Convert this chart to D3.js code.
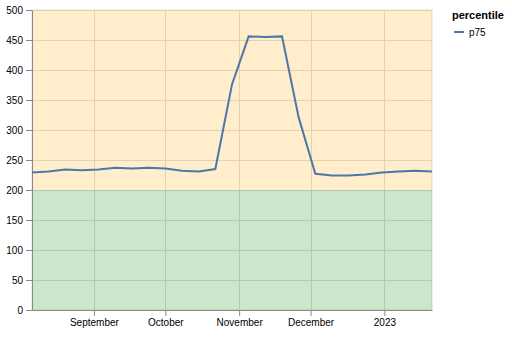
<!DOCTYPE html>
<html>
<head>
<meta charset="utf-8">
<script src="https://cdn.jsdelivr.net/npm/d3@7"></script>
<style>
  body { margin: 0; background: #fff; }
  svg { display: block; font-family: "Liberation Sans", Arial, sans-serif; }
</style>
</head>
<body>
<svg width="512" height="339"></svg>
<script>
// weekly p75 values, starting 2022-08-06
var startDate = new Date(2022, 7, 6);
var p75 = [229, 231, 234, 233, 234, 237, 236, 237, 236, 232, 231, 235,
	376, 456, 455, 456, 321, 227, 224, 224, 226, 229, 231, 232, 231];
var yTicks = [0, 50, 100, 150, 200, 250, 300, 350, 400, 450, 500];
var bands = [
	{ from: 0, to: 200, color: 'green' },
	{ from: 200, to: 500, color: 'orange' }
];
var seriesName = 'p75';
var legendTitle = 'percentile';

var data = p75.map((v, i) => ({ date: d3.timeDay.offset(startDate, i * 7), value: v }));

var margin = { left: 32, top: 10, width: 400, height: 300 };

let svg = d3.select('svg');
let g = svg.append('g').attr('transform', 'translate(' + margin.left + ',' + margin.top + ')');

let x = d3.scaleTime().domain(d3.extent(data, (d) => d.date)).range([0, margin.width]);
let y = d3.scaleLinear().domain([0, 500]).range([margin.height, 0]);

// view border
g.append('rect')
	.attr('width', margin.width)
	.attr('height', margin.height)
	.attr('fill', 'none')
	.attr('stroke', '#ddd');

// grid
let monthTicks = x.ticks(d3.timeMonth.every(1));
g.selectAll('.gx')
	.data(monthTicks)
	.enter()
	.append('line')
	.attr('x1', (d) => Math.round(x(d)) + 0.5)
	.attr('x2', (d) => Math.round(x(d)) + 0.5)
	.attr('y1', 0)
	.attr('y2', margin.height)
	.attr('stroke', '#ddd');
g.selectAll('.gy')
	.data(yTicks)
	.enter()
	.append('line')
	.attr('x1', 0)
	.attr('x2', margin.width)
	.attr('y1', (d) => y(d) + 0.5)
	.attr('y2', (d) => y(d) + 0.5)
	.attr('stroke', '#ddd');

// threshold bands
g.selectAll('.band')
	.data(bands)
	.enter()
	.append('rect')
	.attr('x', 0)
	.attr('y', (d) => y(d.to))
	.attr('width', margin.width)
	.attr('height', (d) => y(d.from) - y(d.to))
	.attr('fill', (d) => d.color)
	.attr('fill-opacity', 0.2);

// axes
let xAxis = g.append('g')
	.attr('transform', 'translate(0,' + margin.height + ')')
	.call(d3.axisBottom(x).tickValues(monthTicks).tickSizeOuter(0).tickPadding(3));
let yAxis = g.append('g')
	.call(d3.axisLeft(y).tickValues(yTicks).tickSizeOuter(0).tickPadding(3));
[xAxis, yAxis].forEach((a) => {
	a.selectAll('path').attr('stroke', '#888');
	a.selectAll('line').attr('stroke', '#888');
	a.selectAll('text').attr('fill', '#000').style('font-size', '10px').style('font-family', '"Liberation Sans", Arial, sans-serif');
});

// line
let line = d3.line().x((d) => x(d.date)).y((d) => y(d.value)).curve(d3.curveLinear);
g.append('path')
	.datum(data)
	.attr('d', line)
	.attr('fill', 'none')
	.attr('stroke', '#4c78a8')
	.attr('stroke-width', 2);

// legend
let legend = svg.append('g').attr('transform', 'translate(452,10)');
legend.append('text')
	.attr('x', 0)
	.attr('y', 9)
	.style('font-size', '11px')
	.style('font-weight', 'bold')
	.text(legendTitle);
legend.append('line')
	.attr('x1', 2)
	.attr('x2', 12)
	.attr('y1', 22)
	.attr('y2', 22)
	.attr('stroke', '#4c78a8')
	.attr('stroke-width', 2);
legend.append('text')
	.attr('x', 17)
	.attr('y', 25.5)
	.style('font-size', '10px')
	.text(seriesName);
</script>
</body>
</html>
